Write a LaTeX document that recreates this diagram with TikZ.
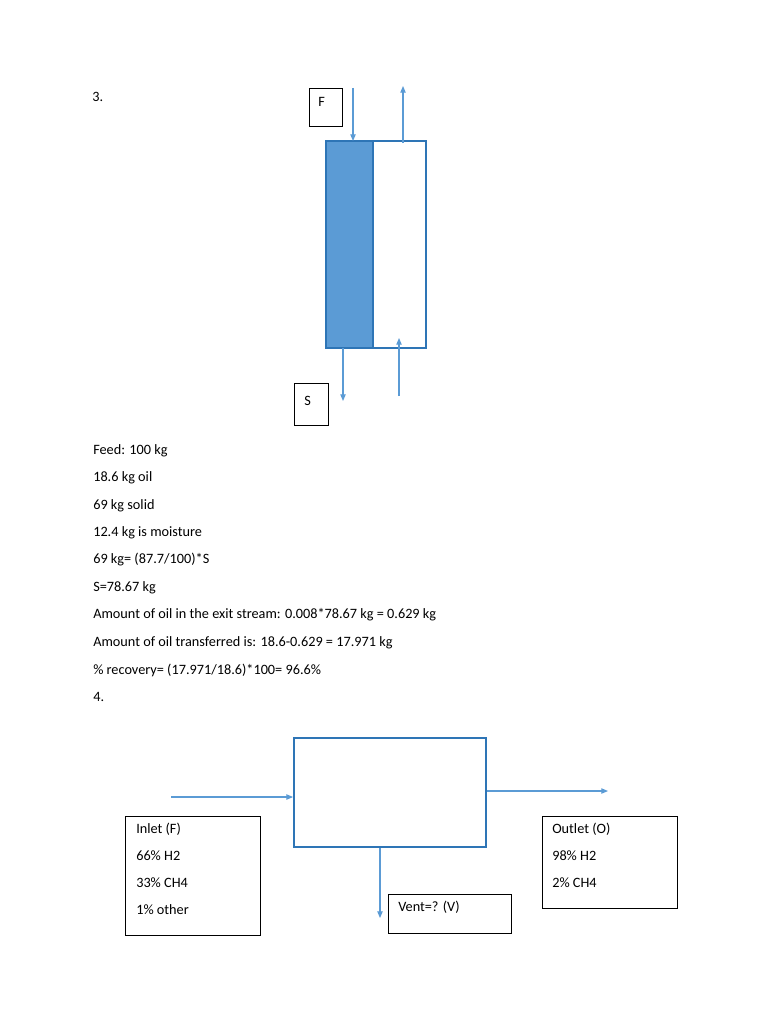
\documentclass[tikz,border=0pt]{standalone}
\usepackage{fontspec}
\setmainfont{Carlito}
\usetikzlibrary{arrows.meta}
\definecolor{bfill}{HTML}{5B9BD5}
\definecolor{bline}{HTML}{2E75B6}
\begin{document}
\begin{tikzpicture}[x=0.75pt,y=-0.75pt,
  txt/.style={anchor=west,inner sep=0pt,font=\fontsize{10.7}{13}\selectfont},
  flow/.style={draw=bfill,line width=0.8pt,-{Triangle[length=5pt,width=4pt]}},
  lbox/.style={draw=black,line width=0.6pt}]
\useasboundingbox[fill=white] (0,0) rectangle (768,1024);
\node[txt] (t3) at (92,97) {3.};
\draw[lbox] (309,88) rectangle (342,126);
\node[txt] (f) at (318,102) {F};
\draw[fill=bfill,draw=bline,line width=0.8pt] (326,141) rectangle (373,348);
\draw[draw=bline,line width=0.8pt] (373,141) rectangle (426,348);
\coordinate (a1) at (353,88); \coordinate (a2) at (353,141);
\coordinate (b1) at (403,143); \coordinate (b2) at (403,86);
\coordinate (c1) at (343,348); \coordinate (c2) at (343,401);
\coordinate (d1) at (399,396); \coordinate (d2) at (399,338);
\draw[flow] (a1) -- (a2);
\draw[flow] (b1) -- (b2);
\draw[flow] (c1) -- (c2);
\draw[flow] (d1) -- (d2);
\draw[lbox] (294,383) rectangle (328,425);
\node[txt] (s) at (304,401) {S};
\node[txt] at (93,451) {Feed: 100 kg};
\node[txt] at (93,478) {18.6 kg oil};
\node[txt] at (93,506) {69 kg solid};
\node[txt] at (93,533) {12.4 kg is moisture};
\node[txt] at (93,560) {69 kg= (87.7/100)*S};
\node[txt] at (93,588) {S=78.67 kg};
\node[txt] at (93,615) {Amount of oil in the exit stream: 0.008*78.67 kg = 0.629 kg};
\node[txt] at (93,643) {Amount of oil transferred is: 18.6-0.629 = 17.971 kg};
\node[txt] at (93,670) {\% recovery= (17.971/18.6)*100= 96.6\%};
\node[txt] at (93,697) {4.};
\node[draw=bline,line width=1.4pt,minimum width=144pt,minimum height=81.75pt,inner sep=0pt] (p) at (390,792.5) {};
\coordinate (i1) at (171,797);
\draw[flow] (i1) -- (p.west |- i1);
\coordinate (o1) at (608,791);
\draw[flow] (p.east |- o1) -- (o1);
\coordinate (v1) at (380,918);
\draw[flow] (p.south -| v1) -- (v1);
\draw[lbox] (125,816) rectangle (260,935);
\node[txt] at (136,829) {Inlet (F)};
\node[txt] at (136,856) {66\% H2};
\node[txt] at (136,883) {33\% CH4};
\node[txt] at (136,910) {1\% other};
\draw[lbox] (542,816) rectangle (677,908);
\node[txt] at (552,829) {Outlet (O)};
\node[txt] at (552,856) {98\% H2};
\node[txt] at (552,883) {2\% CH4};
\draw[lbox] (388,894) rectangle (511,933);
\node[txt] at (398,907) {Vent=? (V)};
\end{tikzpicture}
\end{document}
